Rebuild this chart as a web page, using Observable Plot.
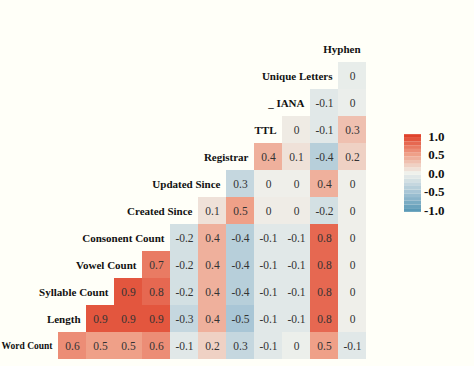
<!DOCTYPE html>
<html><head><meta charset="utf-8">
<script src="https://cdn.jsdelivr.net/npm/d3@7"></script>
<script src="https://cdn.jsdelivr.net/npm/@observablehq/plot@0.6"></script>
<style>
html,body{margin:0;padding:0;background:#fffff8;}
#wrap{position:relative;width:474px;height:366px;background:#fffff8;}
#legend{position:absolute;left:395px;top:120px;}
</style>
</head><body>
<div id="wrap"><div id="main"></div><div id="legend"></div></div>
<script>
// Variable names, bottom row first (diagonal labels)
const variables = ["Word Count","Length","Syllable Count","Vowel Count","Consonent Count","Created Since","Updated Since","Registrar","TTL","IANA","Unique Letters","Hyphen"];
const labelText = ["Word Count","Length","Syllable Count","Vowel Count","Consonent Count","Created Since","Updated Since","Registrar","TTL","_ IANA","Unique Letters","Hyphen"];
const labelSize = [9.5,11,11,11,11,11,11,11,11,11,11,11];

// Correlations (estimated from cell shading), each row against the variables to its right
const rowWordCount   = [0.6,0.5,0.5,0.6,-0.1,0.2,-0.3,-0.1,-0.02,0.5,-0.1];
const rowLength      = [0.9,0.9,0.9,-0.3,0.4,-0.5,-0.1,-0.1,0.8,0.01];
const rowSyllable    = [0.9,0.8,-0.2,0.4,-0.4,-0.1,-0.1,0.8,0.01];
const rowVowel       = [0.7,-0.2,0.4,-0.4,-0.1,-0.1,0.8,0.01];
const rowConsonent   = [-0.2,0.4,-0.4,-0.1,-0.1,0.8,0.01];
const rowCreated     = [0.1,0.5,0.03,0.03,-0.2,0.01];
const rowUpdated     = [-0.3,0.01,0.01,0.4,0.01];
const rowRegistrar   = [0.4,0.1,-0.4,0.2];
const rowTTL         = [0.04,-0.1,0.3];
const rowIANA        = [-0.1,-0.03];
const rowUnique      = [-0.05];
const rowHyphen      = [];

// Printed labels where they differ from the shading value
const printedWordCount = ["0.6","0.5","0.5","0.6","-0.1","0.2","0.3","-0.1","0","0.5","-0.1"];
const printedUpdated   = ["0.3","0","0","0.4","0"];

const legendTicks = [1.0,0.5,0.0,-0.5,-1.0];

const rows = [rowWordCount,rowLength,rowSyllable,rowVowel,rowConsonent,rowCreated,rowUpdated,rowRegistrar,rowTTL,rowIANA,rowUnique,rowHyphen];
const printed = {0: printedWordCount, 6: printedUpdated};

const fmt = v => { const r = Math.round(v*10)/10; return r === 0 ? "0" : String(r); };

const cells = [];
rows.forEach((vals, i) => {
  vals.forEach((v, k) => {
    const j = i + 1 + k;
    cells.push({row: variables[i], col: variables[j], value: v,
      label: printed[i] ? printed[i][k] : fmt(v)});
  });
});

const colorScale = {type: "linear", domain: [-1,-0.5,0,0.5,1],
  range: ["#5b9ab7","#a9c6d6","#eff1ec","#efa088","#e0432c"]};

const serif = "'Liberation Serif','DejaVu Serif',serif";

const main = Plot.plot({
  width: 474, height: 366,
  margin: 0,
  style: {background: "transparent"},
  x: {type: "band", domain: variables, range: [30, 366], padding: 0, axis: null},
  y: {type: "band", domain: variables.slice().reverse(), range: [30, 364], padding: 0, axis: null},
  color: colorScale,
  marks: [
    Plot.cell(cells, {x: "col", y: "row", fill: "value", inset: 0}),
    Plot.text(cells, {x: "col", y: "row", text: "label", fill: "#333",
      fontFamily: serif, fontSize: 11.5}),
    Plot.text(variables, {x: d => d, y: d => d, text: (d, i) => labelText[i],
      textAnchor: "end", dx: 8, fontFamily: serif, fontWeight: "bold",
      fontSize: (d, i) => labelSize[i], fill: "#111"})
  ]
});
document.getElementById("main").appendChild(main);

const steps = d3.range(-1, 1.0001, 0.1).map(v => Math.round(v*10)/10);
const legend = Plot.plot({
  width: 60, height: 100, margin: 0,
  style: {background: "transparent", overflow: "visible"},
  x: {type: "linear", domain: [0,1], range: [9,26], axis: null},
  y: {type: "linear", domain: [-1,1], range: [90,16], axis: null},
  color: colorScale,
  marks: [
    Plot.rect(steps, {x1: 0, x2: 1, y1: d => d - 0.05, y2: d => d + 0.05, fill: d => d}),
    Plot.text(legendTicks, {x: 1, y: d => d, text: d => d.toFixed(1), textAnchor: "end", dx: 23,
      fontFamily: serif, fontWeight: "bold", fontSize: 13, fill: "#111"})
  ]
});
document.getElementById("legend").appendChild(legend);
</script>
</body></html>
